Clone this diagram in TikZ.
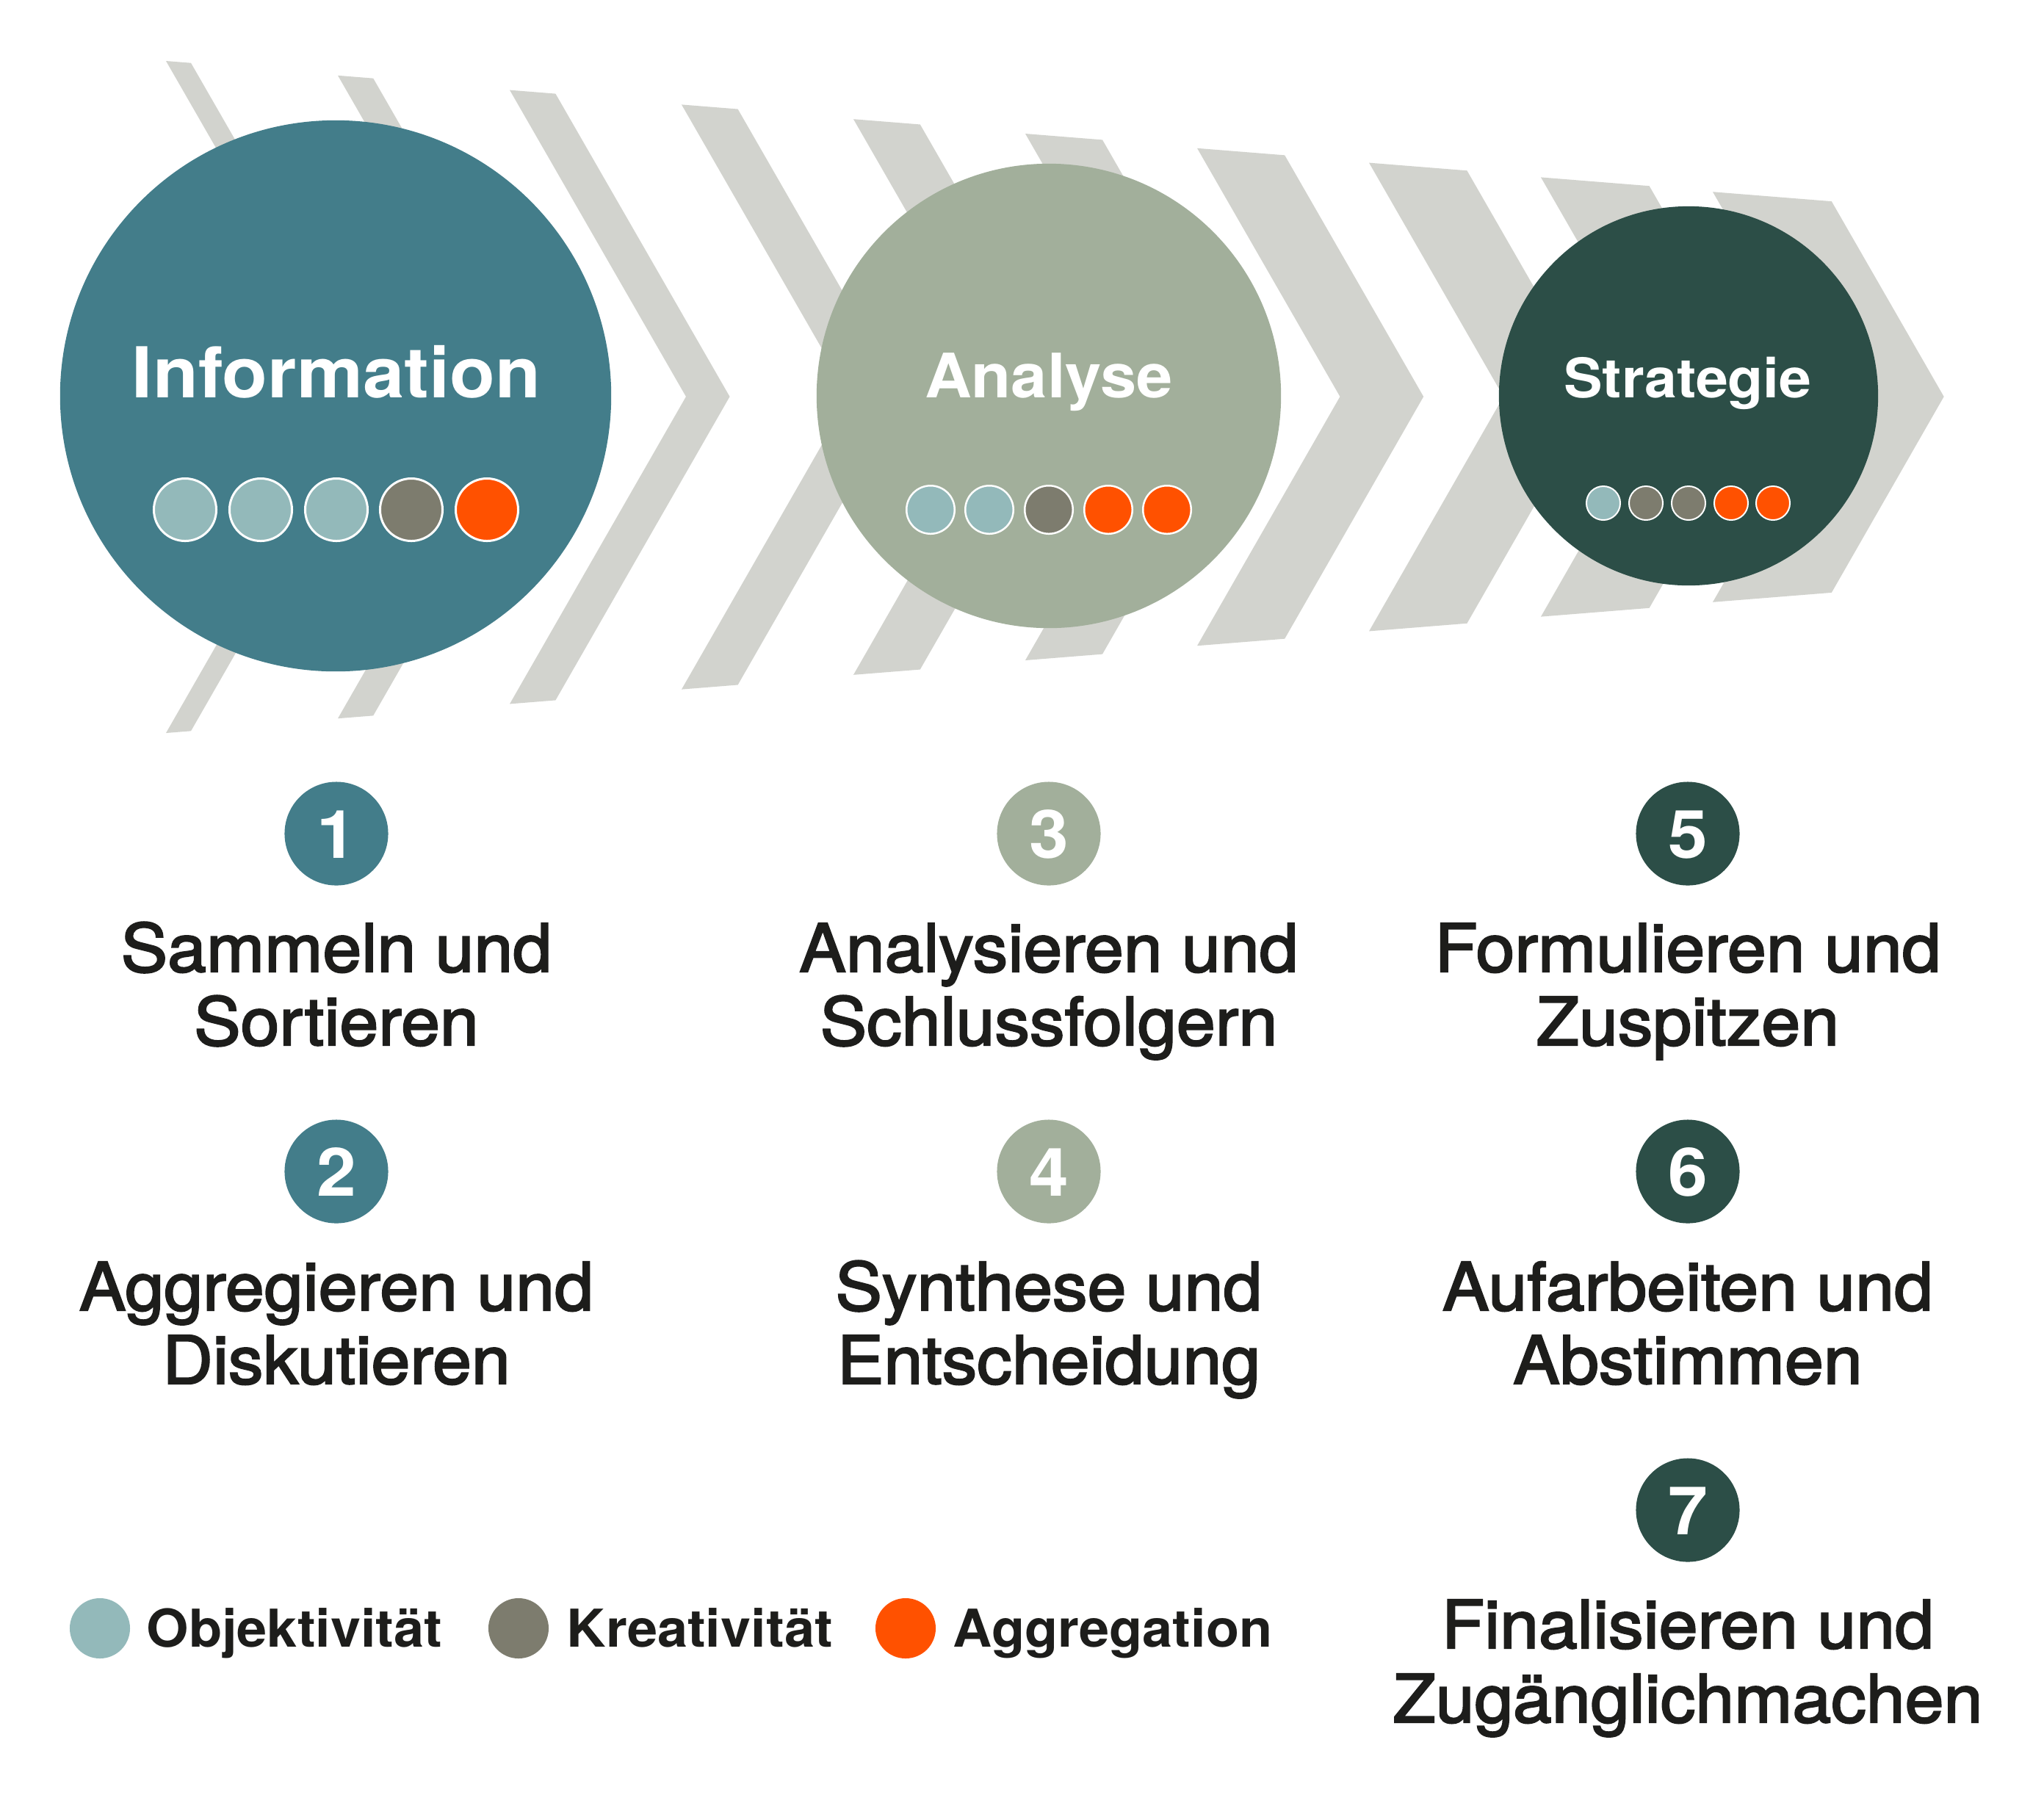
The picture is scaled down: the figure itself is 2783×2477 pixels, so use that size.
\documentclass[tikz,border=0pt]{standalone}
\usepackage{fontspec}
\setmainfont{TeX Gyre Heros}
\newfontfamily\lblfont[Extension=.otf,FakeStretch=1.05,FakeBold=2.5]{texgyreheros-regular}
\newfontfamily\ttlfont[Extension=.otf,FakeStretch=1.06]{texgyreheros-bold}
\newfontfamily\numfont[Extension=.otf,FakeStretch=1.06]{texgyreheros-bold}
\newfontfamily\legfont[Extension=.otf,FakeStretch=1.04]{texgyreheros-bold}
\definecolor{infoc}{HTML}{437D8A}
\definecolor{anac}{HTML}{A2AF9B}
\definecolor{stratc}{HTML}{2C4E47}
\definecolor{chevc}{HTML}{D2D3CE}
\definecolor{objc}{HTML}{93B9BA}
\definecolor{kreac}{HTML}{7D7C6E}
\definecolor{aggc}{HTML}{FF5100}
\definecolor{textc}{HTML}{1D1D1B}
\begin{document}
\begin{tikzpicture}[x=0.01cm,y=-0.01cm,
  chev/.style={fill=chevc},
  bigc/.style={circle,inner sep=0pt,minimum size=#1},
  dotA/.style={circle,inner sep=0pt,minimum size=0.85cm,draw=white,line width=0.03cm,fill=#1},
  dotB/.style={circle,inner sep=0pt,minimum size=0.655cm,draw=white,line width=0.025cm,fill=#1},
  dotC/.style={circle,inner sep=0pt,minimum size=0.46cm,draw=white,line width=0.02cm,fill=#1},
  numc/.style={circle,inner sep=0pt,minimum size=1.41cm,fill=#1},
  numt/.style={anchor=base,inner sep=0pt,text=white,font=\numfont\fontsize{25.9pt}{30pt}\selectfont},
  ttl/.style={anchor=base,inner sep=0pt,text=white,font=\ttlfont\fontsize{#1}{#1}\selectfont},
  lbl/.style={anchor=base,inner sep=0pt,text=textc,font=\lblfont\fontsize{25.75pt}{28.45pt}\selectfont},
  legd/.style={circle,inner sep=0pt,minimum size=0.82cm,fill=#1},
  legt/.style={anchor=base west,inner sep=0pt,text=textc,font=\legfont\fontsize{20.2pt}{24pt}\selectfont}]
\useasboundingbox (0,0) rectangle (2783,2477);
\fill[white] (0,0) rectangle (2783,2477);
% chevrons
\foreach \i in {0,...,9}{
  \pgfmathsetmacro\cx{226+234*\i}
  \pgfmathsetmacro\cw{34+14.2*\i}
  \pgfmathsetmacro\ct{83+19.8*\i}
  \pgfmathsetmacro\cb{998-19.8*\i}
  \pgfmathsetmacro\cd{0.08*\cw}
  \pgfmathsetmacro\cin{\cx+0.575*(540-\ct)}
  \pgfmathsetmacro\cout{\cx+\cw+0.575*(540-\ct-\cd)}
  \fill[chev] (\cx,\ct) -- (\cx+\cw,\ct+\cd) -- (\cout,540) -- (\cx+\cw,\cb-\cd) -- (\cx,\cb) -- (\cin,540) -- cycle;
}
% main circles
\node[bigc=7.5cm,fill=infoc] (info) at (457,539) {};
\node[bigc=6.32cm,fill=anac] (ana) at (1428,539) {};
\node[bigc=5.16cm,fill=stratc] (strat) at (2299,539) {};
\node[ttl=27.17pt] (tinfo) at (458,541) {Information};
\node[ttl=23.73pt] (tana) at (1428,541) {Analyse};
\node[ttl=21.14pt] (tstrat) at (2298,541) {Strategie};
% dots
\node[dotA=objc] (ia) at (252,694) {};
\node[dotA=objc] (ib) at (355,694) {};
\node[dotA=objc] (ic) at (458,694) {};
\node[dotA=kreac] (id) at (560,694) {};
\node[dotA=aggc] (ie) at (663,694) {};
\node[dotB=objc] (aa) at (1267,694) {};
\node[dotB=objc] (ab) at (1347,694) {};
\node[dotB=kreac] (ac) at (1428,694) {};
\node[dotB=aggc] (ad) at (1509,694) {};
\node[dotB=aggc] (ae) at (1589,694) {};
\node[dotC=objc] (sa) at (2183,685) {};
\node[dotC=kreac] (sb) at (2241,685) {};
\node[dotC=kreac] (sc) at (2299,685) {};
\node[dotC=aggc] (sd) at (2357,685) {};
\node[dotC=aggc] (se) at (2414,685) {};
% numbered steps
\node[numc=infoc] (n1) at (458,1135) {};
\node[numt] (t1) at (458,1168) {1};
\node[lbl] (l1a) at (458,1323) {Sammeln und};
\node[lbl] (l1b) at (458,1423) {Sortieren};
\node[numc=infoc] (n2) at (458,1595) {};
\node[numt] (t2) at (458,1628) {2};
\node[lbl] (l2a) at (458,1784) {Aggregieren und};
\node[lbl] (l2b) at (458,1884) {Diskutieren};
\node[numc=anac] (n3) at (1428,1135) {};
\node[numt] (t3) at (1428,1168) {3};
\node[lbl] (l3a) at (1428,1323) {Analysieren und};
\node[lbl] (l3b) at (1428,1423) {Schlussfolgern};
\node[numc=anac] (n4) at (1428,1595) {};
\node[numt] (t4) at (1428,1628) {4};
\node[lbl] (l4a) at (1428,1784) {Synthese und};
\node[lbl] (l4b) at (1428,1884) {Entscheidung};
\node[numc=stratc] (n5) at (2298,1135) {};
\node[numt] (t5) at (2298,1168) {5};
\node[lbl] (l5a) at (2298,1323) {Formulieren und};
\node[lbl] (l5b) at (2298,1423) {Zuspitzen};
\node[numc=stratc] (n6) at (2298,1595) {};
\node[numt] (t6) at (2298,1628) {6};
\node[lbl] (l6a) at (2298,1784) {Aufarbeiten und};
\node[lbl] (l6b) at (2298,1884) {Abstimmen};
\node[numc=stratc] (n7) at (2298,2056) {};
\node[numt] (t7) at (2298,2089) {7};
\node[lbl] (l7a) at (2298,2244) {Finalisieren und};
\node[lbl] (l7b) at (2298,2345) {Zugänglichmachen};
% legend
\node[legd=objc] (g1) at (136,2217) {};
\node[legt] (g1t) at (199,2242) {Objektivität};
\node[legd=kreac] (g2) at (706,2217) {};
\node[legt] (g2t) at (771,2242) {Kreativität};
\node[legd=aggc] (g3) at (1233,2217) {};
\node[legt] (g3t) at (1297,2242) {Aggregation};
\end{tikzpicture}
\end{document}
